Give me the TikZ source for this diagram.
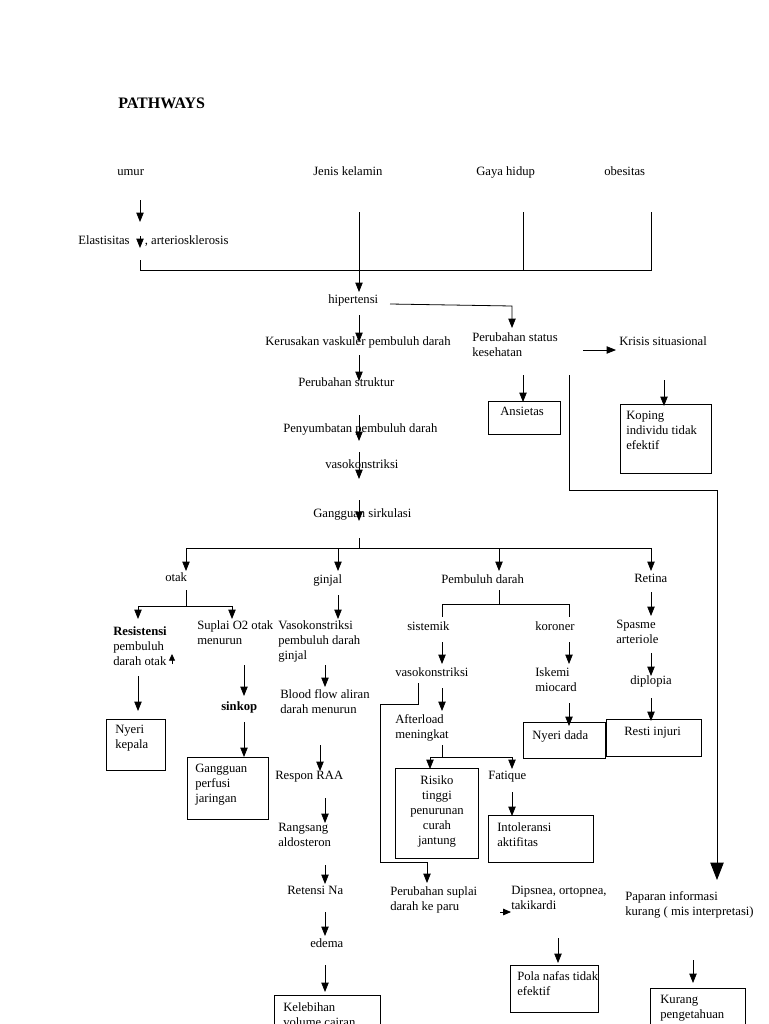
\documentclass[tikz,border=0pt]{standalone}
\usepackage{fontspec}
\setmainfont{Liberation Serif}
\usetikzlibrary{arrows.meta}
\begin{document}
\begin{tikzpicture}[x=0.75pt,y=-0.75pt,
  t/.style={anchor=north west,inner sep=0pt,align=left,font=\fontsize{9.5}{11.3}\selectfont},
  tc/.style={anchor=north,inner sep=0pt,align=center,font=\fontsize{9.5}{11.3}\selectfont},
  bx/.style={draw,line width=0.6pt},
  ln/.style={line width=0.6pt},
  ar/.style={line width=0.6pt,-{Triangle[length=7pt,width=5.5pt]}},
  big/.style={line width=0.6pt,-{Triangle[length=13pt,width=10pt]}}]
\useasboundingbox (0,0) rectangle (768,1024);
\fill[white] (0,0) rectangle (768,1024);
\node[anchor=west,inner sep=0pt,font=\bfseries\fontsize{12}{14}\selectfont] (title) at (118,103) {PATHWAYS};
% top row
\node[t] (umur) at (117,166) {\vphantom{Jk}umur};
\node[t] (jk) at (313,166) {Jenis kelamin};
\node[t] (gh) at (476,166) {Gaya hidup};
\node[t] (ob) at (604,166) {obesitas};
\draw[ar] (140,200) -- (140,222);
\node[t] (el) at (78,235) {Elastisitas \hspace{9pt}, arteriosklerosis};
\draw[ar] (140,236) -- (140,248);
\draw[ln] (140,260) -- (140,270) -- (651,270) -- (651,212);
\draw[ln] (523,212) -- (523,270);
\draw[ar] (359,212) -- (359,292);
\node[t] (hip) at (328,294) {hipertensi};
\draw[ar] (390,304) -- (512,306) -- (512,328);
\draw[ar] (359,315) -- (359,342);
\node[t] (ker) at (265,336) {Kerusakan vaskuler pembuluh darah};
\node[t] (psk) at (472,332) {Perubahan status\\kesehatan};
\draw[ar] (583,350) -- (616,350);
\node[t] (kri) at (619,336) {Krisis situasional};
\draw[ar] (359,355) -- (359,381);
\node[t] (pst) at (298,377) {Perubahan struktur};
\draw[ar] (523,375) -- (523,402);
\draw[bx] (488,401) rectangle (560,434);
\node[t] (ans) at (500,407) {Ansietas};
\draw[ar] (664,380) -- (664,406);
\draw[bx] (620,404) rectangle (711,473);
\node[t] (kop) at (626,411) {Koping\\individu tidak\\efektif};
\draw[big] (569,375) -- (569,490) -- (717,490) -- (717,880);
\draw[ar] (359,415) -- (359,441);
\node[t] (pen) at (283,423) {Penyumbatan pembuluh darah};
\draw[ar] (359,452) -- (359,479);
\node[t] (vas) at (325,459) {vasokonstriksi};
\draw[ar] (359,500) -- (359,521);
\node[t] (gs) at (313,508) {Gangguan sirkulasi};
\draw[ln] (359,538) -- (359,548);
\draw[ln] (186,548) -- (651,548);
\foreach \x in {186,338,499,651} \draw[ar] (\x,548) -- (\x,571);
\node[t] (otak) at (165,572) {otak};
\node[t] (gin) at (313,574) {ginjal};
\node[t] (pd) at (441,574) {Pembuluh darah};
\node[t] (ret) at (634,574) {Retina};
% otak
\draw[ln] (186,590) -- (186,606); \draw[ln] (138,606) -- (232,606);
\draw[ar] (138,606) -- (138,619); \draw[ar] (232,606) -- (232,619);
\node[t] (res) at (113,626) {\textbf{Resistensi}\\pembuluh\\darah otak};
\draw[ln,-{Triangle[length=5pt,width=4.5pt]}] (172,664) -- (172,654);
\draw[ar] (138,676) -- (138,711);
\draw[bx] (106,719) rectangle (165,770);
\node[t] (nk) at (115,725) {Nyeri\\kepala};
\node[t] (sup) at (197,620) {Suplai O2 otak\\menurun};
\draw[ar] (244,665) -- (244,696);
\node[t] (sin) at (221,701) {\textbf{sinkop}};
\draw[ar] (244,722) -- (244,757);
\draw[bx] (187,757) rectangle (268,819);
\node[t] (gp) at (195,764) {Gangguan\\perfusi\\jaringan};
% ginjal
\draw[ar] (338,595) -- (338,619);
\node[t] (vg) at (278,620) {Vasokonstriksi\\pembuluh darah\\ginjal};
\draw[ar] (325,665) -- (325,687);
\node[t] (bf) at (280,689) {Blood flow aliran\\darah menurun};
\draw[ar] (320,745) -- (320,771);
\node[t] (raa) at (275,771) {Respon RAA};
\draw[ar] (325,798) -- (325,823);
\node[t] (ald) at (278,823) {Rangsang\\aldosteron};
\draw[ar] (325,865) -- (325,884);
\node[t] (na) at (287,886) {Retensi Na};
\draw[ar] (325,912) -- (325,936);
\node[t] (ed) at (310,938) {edema};
\draw[ar] (325,965) -- (325,992);
\draw[bx] (274,995) rectangle (380,1030);
\node[t] (kv) at (283,1002) {Kelebihan\\volume cairan};
% pembuluh darah
\draw[ln] (499,590) -- (499,604); \draw[ln] (442,604) -- (569,604);
\draw[ln] (442,604) -- (442,617); \draw[ln] (569,604) -- (569,617);
\node[t] (sis) at (407,621) {sistemik};
\node[t] (kor) at (535,621) {koroner};
\draw[ar] (442,642) -- (442,664);
\node[t] (vs2) at (395,667) {vasokonstriksi};
\draw[ln] (418,683) -- (418,704) -- (380,704) -- (380,862) -- (427,862);
\draw[ar] (427,862) -- (427,883);
\draw[ar] (442,688) -- (442,711);
\node[t] (aft) at (395,714) {Afterload\\meningkat};
\draw[ln] (442,745) -- (442,757); \draw[ln] (430,757) -- (512,757);
\draw[ar] (430,757) -- (430,769); \draw[ar] (512,757) -- (512,769);
\draw[bx] (395,768) rectangle (478,858);
\node[tc] (ris) at (437,775) {Risiko\\tinggi\\penurunan\\curah\\jantung};
\node[t] (fat) at (488,771) {Fatique};
\draw[ar] (512,792) -- (512,816);
\draw[bx] (488,815) rectangle (593,862);
\node[t] (int) at (497,822) {Intoleransi\\aktifitas};
\draw[ar] (569,642) -- (569,664);
\node[t] (isk) at (535,667) {Iskemi\\miocard};
\draw[ar] (569,703) -- (569,726);
\draw[bx] (523,722) rectangle (605,758);
\node[t] (nd) at (532,730) {Nyeri dada};
% retina
\draw[ar] (651,592) -- (651,616);
\node[t] (spa) at (616,620) {Spasme\\arteriole};
\draw[ar] (651,653) -- (651,676);
\node[t] (dip) at (630,675) {diplopia};
\draw[ar] (651,698) -- (651,721);
\draw[bx] (606,719) rectangle (701,756);
\node[t] (ri) at (624,727) {Resti injuri};
% bottom
\node[t] (psu) at (390,886) {Perubahan suplai\\darah ke paru};
\node[t] (dis) at (511,886) {Dipsnea, ortopnea,\\takikardi};
\draw[ln,-{Triangle[length=6pt,width=5pt]}] (500,912) -- (511,912);
\draw[ar] (558,938) -- (558,963);
\draw[bx] (510,965) rectangle (598,1012);
\node[t] (pn) at (517,971) {Pola nafas tidak\\efektif};
\node[t] (pap) at (625,891) {Paparan informasi\\kurang ( mis interpretasi)};
\draw[ar] (693,960) -- (693,983);
\draw[bx] (650,988) rectangle (745,1030);
\node[t] (kp) at (660,995) {Kurang\\pengetahuan};
\end{tikzpicture}
\end{document}
